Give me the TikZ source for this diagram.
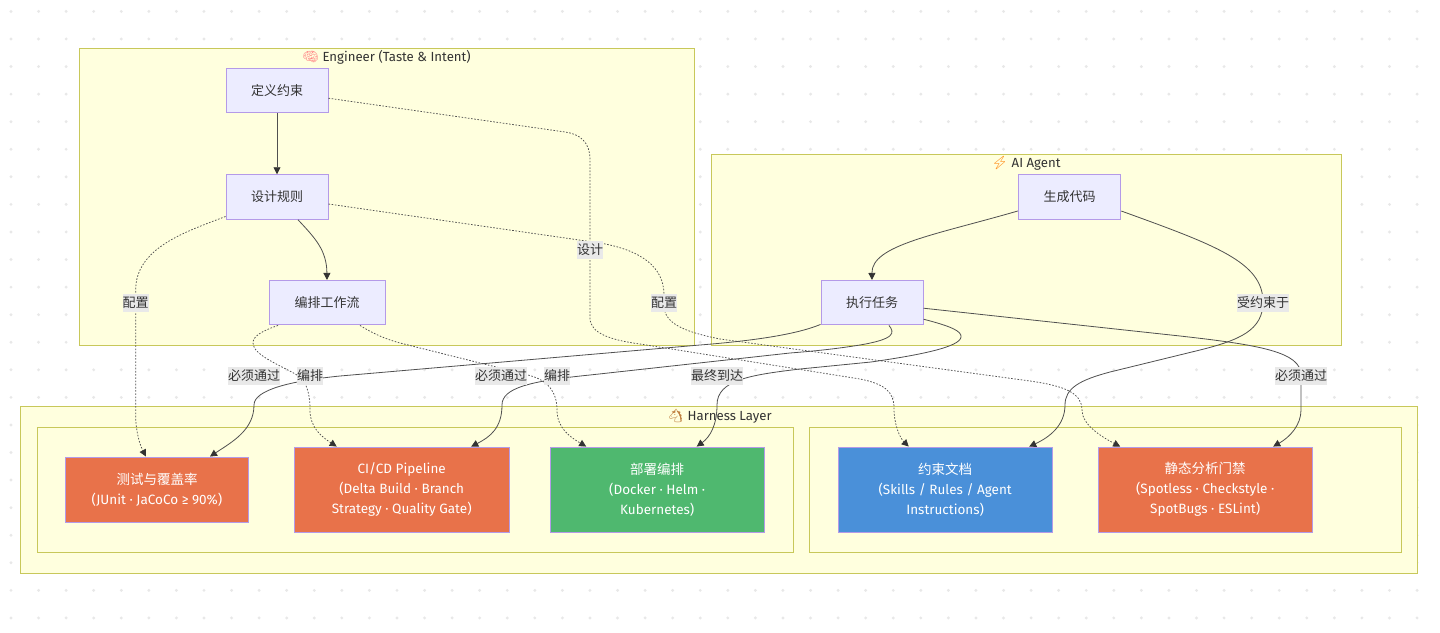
\documentclass[tikz,border=0pt]{standalone}
\usepackage{fontspec}
\setmainfont{Fira Sans}
\newfontfamily\cjk{Noto Sans CJK SC}
\newfontfamily\emojifont{Noto Emoji}
\usetikzlibrary{arrows.meta,calc}
\definecolor{ink}{HTML}{333333}
\definecolor{soft}{HTML}{505050}
\definecolor{clfill}{HTML}{FFFFDE}
\definecolor{clline}{HTML}{C8C85A}
\definecolor{ndfill}{HTML}{ECECFF}
\definecolor{ndline}{HTML}{B49AE8}
\definecolor{orangeb}{HTML}{E8724A}
\definecolor{greenb}{HTML}{4FB86F}
\definecolor{blueb}{HTML}{4A90D9}
\definecolor{lbl}{HTML}{E9E9E9}
\definecolor{griddot}{HTML}{E8E8E8}
\tikzset{
  x=1pt,y=-1pt,
  cluster/.style={draw=clline,fill=clfill,line width=1pt,inner sep=0pt},
  cltitle/.style={text=ink,font=\fontsize{13.2}{16}\selectfont,inner sep=0pt},
  plainbox/.style={draw=ndline,fill=ndfill,line width=1pt,inner sep=0pt,text=ink,font=\fontsize{13}{20}\selectfont\cjk},
  colbox/.style={draw=ndline,fill=#1,line width=.9pt,inner sep=0pt,text=white,align=center,font=\fontsize{13.5}{20}\selectfont},
  flow/.style={draw=soft,line width=.8pt,-{Triangle[length=7pt,width=7pt,color=ink,fill=ink]}},
  dep/.style={draw=soft,line width=.75pt,dash pattern=on 1.6pt off 1.6pt,-{Triangle[length=7pt,width=7pt,color=ink,fill=ink,sep=0pt]}},
  edgelabel/.style={fill=lbl,text=ink,inner xsep=0pt,inner ysep=3pt,font=\fontsize{13}{15}\selectfont\cjk},
}
\newcommand{\emo}[2]{\textcolor{#1}{\emojifont #2}}
\begin{document}
\begin{tikzpicture}
\useasboundingbox (0,0) rectangle (1440,632);
\fill[white] (0,0) rectangle (1440,632);
\foreach \i in {0,...,51}{\foreach \j in {0,...,22}{
  \fill[griddot] ({11+27.57*\i},{11.4+27.57*\j}) circle (1.6);
}}
% clusters
\node[cluster,minimum width=614.5pt,minimum height=297pt] (engineer) at (386.8,196.5) {};
\node[cluster,minimum width=630pt,minimum height=191pt] (agent) at (1026,249.5) {};
\node[cluster,minimum width=1397.5pt,minimum height=167pt] (harness) at (719.2,489.5) {};
\node[cluster,minimum width=756pt,minimum height=125pt] (subleft) at (415,489.5) {};
\node[cluster,minimum width=592pt,minimum height=125pt] (subright) at (1105,489.5) {};
\node[cltitle] (t1) at (386.5,57) {\emo{pink!70!red}{🧠} Engineer (Taste \& Intent)};
\node[cltitle] (t2) at (1026,163.5) {\emo{orange}{⚡} AI Agent};
\node[cltitle] (t3) at (719.5,416) {\emo{brown}{🐴} Harness Layer};
% nodes
\node[plainbox,minimum width=102pt,minimum height=44.5pt] (d1) at (277,90.7) {\raisebox{-.6pt}{定义约束}};
\node[plainbox,minimum width=102pt,minimum height=44.5pt] (d2) at (277,197) {\raisebox{-.6pt}{设计规则}};
\node[plainbox,minimum width=116pt,minimum height=44.5pt] (d3) at (327,302.7) {\raisebox{-.6pt}{编排工作流}};
\node[plainbox,minimum width=102.5pt,minimum height=44.5pt] (a1) at (1069.5,197) {\raisebox{-.6pt}{生成代码}};
\node[plainbox,minimum width=102pt,minimum height=44.5pt] (a2) at (872,302.7) {\raisebox{-.6pt}{执行任务}};
\node[colbox=orangeb,minimum width=183pt,minimum height=65pt] (h1) at (157,489.5) {{\cjk 测试与覆盖率}\\(JUnit · JaCoCo ≥ 90\%)};
\node[colbox=orangeb,minimum width=214.5pt,minimum height=85pt] (h2) at (401.7,489.5) {CI/CD Pipeline\\(Delta Build · Branch\\Strategy · Quality Gate)};
\node[colbox=greenb,minimum width=214.5pt,minimum height=85pt] (h3) at (657.2,489.5) {{\cjk 部署编排}\\(Docker · Helm ·\\Kubernetes)};
\node[colbox=blueb,minimum width=214.5pt,minimum height=85pt] (h4) at (945.2,489.5) {{\cjk 约束文档}\\(Skills / Rules / Agent\\Instructions)};
\node[colbox=orangeb,minimum width=214.5pt,minimum height=85pt] (h5) at (1205.2,489.5) {{\cjk 静态分析门禁}\\(Spotless · Checkstyle ·\\SpotBugs · ESLint)};
% connectors
\draw[flow] (d1.south) -- (d2.north);
\draw[flow] ($(d2.south)+(21,0)$) .. controls (315,238) and (326.7,250) .. (d3.north);
\draw[flow] ($(a1.west)+(0,14)$) .. controls (935,235) and (871.5,245) .. (a2.north);
\draw[dep] ($(d2.west)+(0,19.5)$) .. controls (185,232) and (135.7,248) .. (135.7,290) -- (135.7,415) .. controls (135.7,432) and (140,445) .. ($(h1.north)+(-11,0)$);
\draw[dep] ($(d2.east)+(0,7)$) -- (600,243) .. controls (640,250) and (664,266) .. (664,295) -- (664,305) .. controls (664,322) and (680,331) .. (720,339) -- (1030,381) .. controls (1065,386) and (1082,393) .. (1082,410) .. controls (1082,425) and (1102,437) .. ($(h5.north)+(-85,0)$);
\draw[dep] ($(d1.east)+(0,7.5)$) -- (565,132) .. controls (580,134) and (590,142) .. (590,160) -- (590,318) .. controls (590,333) and (610,340) .. (640,344) -- (860,379) .. controls (885,384) and (894,392) .. (894,408) .. controls (894,425) and (900,438) .. ($(h4.north)+(-36.5,0)$);
\draw[dep] ($(d3.south)+(-49,0)$) .. controls (262,331) and (253,336) .. (253,343) .. controls (253,355) and (280,365) .. (297,375) .. controls (305,380) and (310,390) .. (310,410) .. controls (310,428) and (322,437) .. ($(h2.north)+(-65,0)$);
\draw[dep] ($(d3.south)+(33,0)$) .. controls (372,333) and (385,339) .. (400,343) -- (528,375) .. controls (548,380) and (557,392) .. (557,410) .. controls (557,428) and (570,437) .. ($(h3.north)+(-71,0)$);
\draw[flow] ($(a2.south west)+(0,-1)$) .. controls (795,335) and (750,341) .. (700,345) -- (340,376) .. controls (290,381) and (254,390) .. (254,405) .. controls (254,430) and (232,442) .. ($(h1.north)+(53,0)$);
\draw[flow] ($(a2.south)+(17,0)$) .. controls (895,333) and (895,339) .. (860,345) .. controls (835,349) and (815,351) .. (790,353) -- (590,375) .. controls (530,381) and (502,388) .. (502,405) .. controls (502,428) and (490,437) .. ($(h2.north)+(69.5,0)$);
\draw[flow] ($(a2.east)+(0,16.5)$) .. controls (950,326) and (962,331) .. (961,337) .. controls (960,347) and (920,355) .. (871,362) -- (800,369) .. controls (750,375) and (717,380) .. (717,405) .. controls (717,425) and (710,437) .. ($(h3.north)+(39.5,0)$);
\draw[flow] ($(a2.east)+(0,5.5)$) -- (1180,336) .. controls (1260,345) and (1301,352) .. (1301,375) -- (1301,410) .. controls (1301,425) and (1290,437) .. ($(h5.north)+(68,0)$);
\draw[flow] ($(a1.east)+(0,14)$) .. controls (1215,245) and (1263,262) .. (1263,302) .. controls (1263,330) and (1240,340) .. (1200,350) -- (1110,372) .. controls (1080,380) and (1065,388) .. (1065,405) .. controls (1065,425) and (1050,437) .. ($(h4.north)+(84,0)$);
% edge labels
\node[edgelabel] (l1) at (135.7,302.8) {配置};
\node[edgelabel] (l2) at (664,302.8) {配置};
\node[edgelabel] (l3) at (590,249.8) {设计};
\node[edgelabel] (l4) at (254,375.8) {必须通过};
\node[edgelabel] (l5) at (310,375.8) {编排};
\node[edgelabel] (l6) at (501,375.8) {必须通过};
\node[edgelabel] (l7) at (557,375.8) {编排};
\node[edgelabel] (l8) at (717,375.8) {最终到达};
\node[edgelabel] (l9) at (1263,302.8) {受约束于};
\node[edgelabel] (l10) at (1301,375.8) {必须通过};
\end{tikzpicture}
\end{document}
